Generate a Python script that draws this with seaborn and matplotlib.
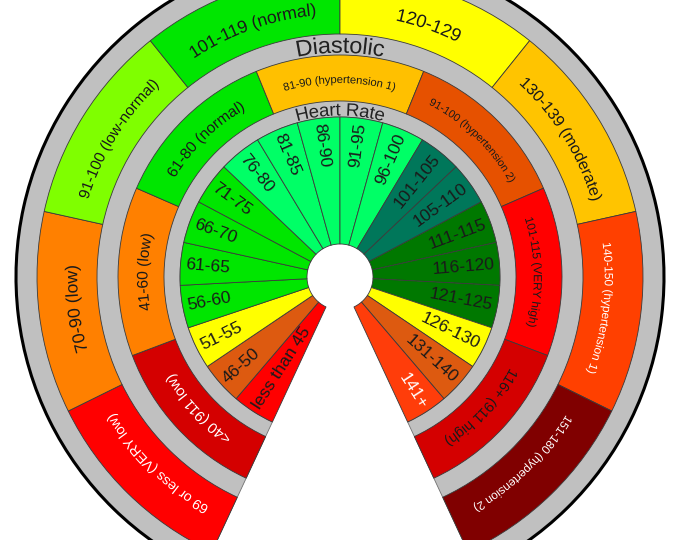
import numpy as np
import matplotlib
matplotlib.use("Agg")
import matplotlib.pyplot as plt
from matplotlib.patches import Wedge, Arc
from matplotlib.patheffects import AbstractPathEffect
from matplotlib.transforms import IdentityTransform
from matplotlib.font_manager import FontProperties
from matplotlib.path import Path
import seaborn as sns

sns.set_theme(style="white")
plt.rcParams["font.family"] = ["Liberation Sans", "DejaVu Sans"]

# ---------------- data ----------------
heart_labels = ["less than 45", "46-50", "51-55", "56-60", "61-65", "66-70", "71-75",
                "76-80", "81-85", "86-90", "91-95", "96-100", "101-105", "105-110",
                "111-115", "116-120", "121-125", "126-130", "131-140", "141+"]
heart_colors = ["#FF0000", "#DD5A10", "#FFFF00", "#00E600", "#00E600", "#00E600", "#00E600",
                "#00FF66", "#00FF66", "#00FF66", "#00FF66", "#00FF66", "#00775A", "#00775A",
                "#007800", "#007800", "#007800", "#FFFF00", "#DD5A10", "#FF3D0A"]
heart_text = ["#1a1a1a"] * 19 + ["white"]

dia_labels = ["<40 (911 low)", "41-60 (low)", "61-80 (normal)", "81-90 (hypertension 1)",
              "91-100 (hypertension 2)", "101-115 (VERY high)", "116+ (911 high)"]
dia_colors = ["#D40000", "#FF8000", "#00E600", "#FFC000", "#E65100", "#FF0000", "#D40000"]
dia_text = ["white", "#1a1a1a", "#1a1a1a", "#1a1a1a", "#1a1a1a", "#1a1a1a", "#1a1a1a"]
dia_sizes = [10.5, 11, 11, 8, 7.8, 8.4, 10.3]

sys_labels = ["69 or less (VERY low)", "70-90 (low)", "91-100 (low-normal)", "101-119 (normal)",
              "120-129", "130-139 (moderate)", "140-150 (hypertension 1)", "151-180 (hypertension 2)"]
sys_colors = ["#FF0000", "#FF8000", "#7FFF00", "#00E600", "#FFFF00", "#FFC400", "#FF4000", "#800000"]
sys_text = ["white", "#1a1a1a", "#1a1a1a", "#1a1a1a", "#1a1a1a", "#1a1a1a", "white", "white"]
sys_sizes = [10, 12.5, 11, 12.5, 13, 11.5, 8.5, 8.5]

ring_titles = ["Heart Rate", "Diastolic"]

# ---------------- layout ----------------
CX, CY = 340, 263
START, END = -155.0, 155.0
R_HOLE, R_HR = 33, 160
R_D_IN, R_D_OUT = 176, 222
R_S_IN, R_S_OUT = 243, 303
R_OUTER = 324
EDGE = "#3a3a3a"

fig = plt.figure(figsize=(6.8, 5.4), dpi=100)
ax = fig.add_axes([0, 0, 1, 1])
ax.set_xlim(0, 680)
ax.set_ylim(0, 540)
ax.set_aspect("equal")
ax.axis("off")
RENDERER = fig.canvas.get_renderer()


def pol(r, t):
    tr = np.radians(t)
    return CX + r * np.sin(tr), CY + r * np.cos(tr)


def ring(labels, colors, r_in, r_out):
    n = len(labels)
    step = (END - START) / n
    centers = []
    for i, col in enumerate(colors):
        a0 = START + i * step
        a1 = a0 + step
        ax.add_patch(Wedge((CX, CY), r_out, 90 - a1, 90 - a0, width=r_out - r_in,
                           facecolor=col, edgecolor=EDGE, linewidth=0.6))
        centers.append(a0 + step / 2)
    return centers


class ArcWarp(AbstractPathEffect):
    """Bend a (real) text object's glyph outlines along a circular arc."""

    def __init__(self, anchor, r_base, tc):
        super().__init__()
        self.anchor = anchor
        self.rb = r_base
        self.tc = tc

    def draw_path(self, renderer, gc, tpath, affine, rgbFace=None):
        T = ax.transData
        c = T.transform((CX, CY))
        a = T.transform(self.anchor)
        s = (T.transform((1, 0)) - T.transform((0, 0)))[0]
        rb = self.rb * s
        v = affine.transform(tpath.vertices) - a
        ang = np.radians(-self.tc)
        d = np.array([np.cos(ang), np.sin(ang)])
        nrm = np.array([-np.sin(ang), np.cos(ang)])
        u = v @ d
        w = v @ nrm
        t = np.radians(self.tc) + u / rb
        rr = rb + w
        xy = np.column_stack([c[0] + rr * np.sin(t), c[1] + rr * np.cos(t)])
        renderer.draw_path(gc, Path(xy, tpath.codes), IdentityTransform(), rgbFace)


def arc_text(s, r, tc, size, color):
    px = size * 100 / 72
    rb = r - 0.716 * px / 2
    wpx, _, _ = RENDERER.get_text_width_height_descent(
        s, FontProperties(family="Liberation Sans", size=size), ismath=False)
    half = wpx / 2 / rb
    anchor = pol(rb * np.cos(half), tc)   # straight text sits on the chord of the arc
    ax.text(anchor[0], anchor[1], s, rotation=-tc, rotation_mode="anchor",
            ha="center", va="baseline", fontsize=size, color=color,
            path_effects=[ArcWarp(anchor, rb, tc)])


# grey background band + outline
ax.add_patch(Wedge((CX, CY), R_OUTER, 90 - END, 90 - START, width=R_OUTER - R_HR,
                   facecolor="#C0C0C0", edgecolor="#707070", linewidth=0.6))
ax.add_patch(Arc((CX, CY), 2 * R_OUTER, 2 * R_OUTER, theta1=90 - END, theta2=90 - START,
                 color="black", linewidth=2.2))

# heart-rate ring
hc = ring(heart_labels, heart_colors, R_HOLE, R_HR)
for lab, t, col in zip(heart_labels, hc, heart_text):
    x, y = pol(155, t)
    if t > 0:
        rot, ha = 90 - t, "right"
    else:
        rot, ha = -90 - t, "left"
    ax.text(x, y, lab, rotation=rot, rotation_mode="anchor", ha=ha, va="center",
            fontsize=12.5, color=col)

# diastolic ring
dc = ring(dia_labels, dia_colors, R_D_IN, R_D_OUT)
for lab, t, col, sz in zip(dia_labels, dc, dia_text, dia_sizes):
    arc_text(lab, 198, t, sz, col)

# systolic ring
sc = ring(sys_labels, sys_colors, R_S_IN, R_S_OUT)
for lab, t, col, sz in zip(sys_labels, sc, sys_text, sys_sizes):
    arc_text(lab, 269, t, sz, col)

# ring titles in the grey bands
arc_text(ring_titles[0], (R_HR + R_D_IN) / 2, 0, 13, "#222222")
arc_text(ring_titles[1], (R_D_OUT + R_S_IN) / 2, 0, 16.5, "#222222")

fig.savefig("out.png", dpi=100)
